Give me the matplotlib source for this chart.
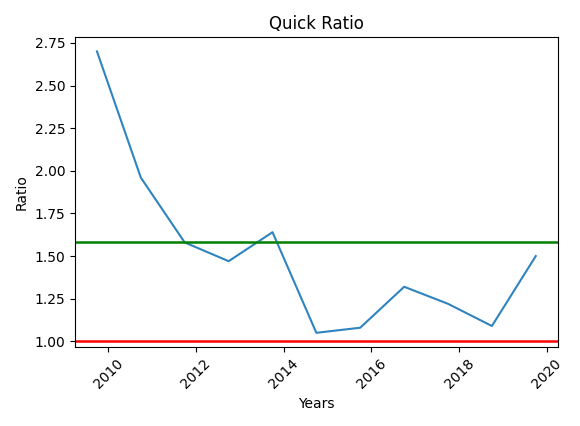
import pandas as pd
import matplotlib
matplotlib.use("Agg")
import matplotlib.pyplot as plt
import matplotlib.dates as mdates

# Fiscal year-end dates and quick ratio values
dates = pd.to_datetime([f"{y}-09-30" for y in range(2009, 2020)])
ratio = [2.70, 1.96, 1.58, 1.47, 1.64, 1.05, 1.08, 1.32, 1.22, 1.09, 1.50]
industry_level = 1.58
baseline = 1.0

fig, ax = plt.subplots(figsize=(5.8, 4.26), dpi=100)
ax.plot(dates, ratio, color="#2f84bf", linewidth=1.5)
ax.axhline(industry_level, color="green", linewidth=1.8)
ax.axhline(baseline, color="red", linewidth=1.8)
ax.xaxis.set_major_locator(mdates.YearLocator(2))
ax.xaxis.set_major_formatter(mdates.DateFormatter("%Y"))
ax.set_title("Quick Ratio")
ax.set_xlabel("Years")
ax.set_ylabel("Ratio")
plt.setp(ax.get_xticklabels(), rotation=45)
plt.tight_layout()
plt.savefig("out.png", dpi=100)
